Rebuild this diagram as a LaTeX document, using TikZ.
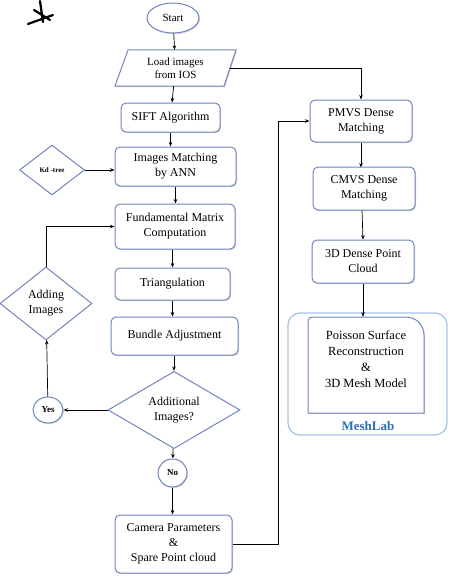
\documentclass[tikz,border=0pt]{standalone}
\usepackage{fontspec}
\setmainfont{Liberation Serif}
\usetikzlibrary{shapes.geometric,shadows,arrows.meta}
\definecolor{bord}{HTML}{6F86BA}
\definecolor{mlab}{HTML}{2E6DB4}
\definecolor{outerc}{HTML}{A9C4E6}
\begin{document}
\begin{tikzpicture}[x=1pt,y=-1pt,
  shad/.style={drop shadow={shadow xshift=1pt,shadow yshift=-1.2pt,opacity=0.3,fill=gray}},
  box/.style={draw=bord, line width=1pt, rounded corners=5pt, fill=white, align=center, inner sep=0pt, shad, font=\fontsize{12}{15}\selectfont},
  dia/.style={diamond, draw=bord, line width=1pt, fill=white, align=center, inner sep=0pt, font=\fontsize{12}{15}\selectfont},
  circ/.style={ellipse, draw=bord, line width=1pt, fill=white, inner sep=0pt, shad, font=\bfseries\fontsize{9}{10}\selectfont},
  arr/.style={-{Stealth[length=4.5pt,width=3.5pt]}, line width=0.7pt}]
\useasboundingbox (0,0) rectangle (474,578);

% hand mark
\draw[line width=2.2pt, line cap=round] (40,1) -- (43,22) (28,24) -- (53,15) (34,10) -- (50,20);

% left column
\node[circ, minimum width=52pt, minimum height=30pt, font=\fontsize{11}{12}\selectfont] (start) at (173,18) {Start};
\draw[bord, line width=1pt, fill=white, shad] (128,50) -- (236,50) -- (224,86) -- (115,86) -- cycle;
\node[inner sep=0pt, minimum width=108pt, minimum height=36pt, align=center, font=\fontsize{11}{13.5}\selectfont] (load) at (175.5,68) {Load images\\from IOS};
\node[box, minimum width=99pt, minimum height=29pt] (sift) at (170.5,117.5) {SIFT Algorithm};
\node[box, minimum width=121pt, minimum height=39pt] (match) at (175.5,166.5) {Images Matching\\by ANN};
\node[dia, minimum width=65pt, minimum height=50pt, font=\bfseries\fontsize{7}{8}\selectfont] (kd) at (52,170) {Kd -tree};
\node[box, minimum width=120pt, minimum height=45pt] (fund) at (175,226.5) {Fundamental Matrix\\Computation};
\node[box, minimum width=115pt, minimum height=32pt] (tri) at (172.5,284) {Triangulation};
\node[box, minimum width=127pt, minimum height=38pt] (bundle) at (174.5,336) {Bundle Adjustment};
\node[dia, minimum width=132pt, minimum height=76pt] (addl) at (174,410) {Additional\\Images?};
\node[circ, minimum width=30pt, minimum height=26pt] (yes) at (48,410) {Yes};
\node[dia, minimum width=92pt, minimum height=73pt] (adding) at (46,303.5) {Adding\\Images};
\node[circ, minimum width=29pt, minimum height=28pt] (no) at (172.5,473) {No};
\node[box, minimum width=117pt, minimum height=58pt] (cam) at (173.5,544) {Camera Parameters\\\&\\Spare Point cloud};

% right column
\node[box, minimum width=102pt, minimum height=42pt] (pmvs) at (361,121) {PMVS Dense\\Matching};
\node[box, minimum width=102pt, minimum height=43pt] (cmvs) at (364,188.5) {CMVS Dense\\Matching};
\node[box, minimum width=102pt, minimum height=43pt] (dense) at (363,261.5) {3D Dense Point\\Cloud};

\draw[outerc, line width=1.3pt, rounded corners=12pt] (288,313) rectangle (447,435);
\draw[bord, line width=1pt, fill=white, shad] (308,413) [rounded corners=4pt] -- (308,317) [rounded corners=18pt] -- (424,317) [sharp corners] -- (424,413) -- cycle;
\node[inner sep=0pt, minimum width=116pt, minimum height=96pt] (mesh) at (366,365) {};
\node[align=center, font=\fontsize{12.5}{16}\selectfont] (poisson) at (366,359) {Poisson Surface\\Reconstruction\\\&\\3D Mesh Model};
\node[font=\bfseries\fontsize{13}{14}\selectfont, text=mlab] (ml) at (368,426) {MeshLab};

% connectors
\draw[arr] (start) -- (load);
\draw[arr] (load) -- (sift);
\draw[arr] (sift) -- (sift |- match.north);
\draw[arr] (kd.east) -- (match.west |- kd.east);
\draw[arr] (match) -- (match |- fund.north);
\draw[arr] (fund.south -| tri) -- (tri);
\draw[arr] (tri) -- (tri |- bundle.north);
\draw[arr] (bundle.south -| addl) -- (addl);
\draw[arr] (addl.west) -- (yes.east);
\draw[arr] (yes) -- (adding);
\draw[arr] (adding.north) |- (fund.west);
\draw[arr] (addl) -- (no);
\draw[arr] (no) -- (no |- cam.north);
\draw[arr] (load.east) -| (pmvs.north);
\draw[arr] (cam.east) -- ++(46,0) |- (pmvs.west);
\draw[arr] (pmvs.south -| cmvs.north) ++(-3,0) -- ++(0,25);
\draw[arr] (cmvs.south) ++(-2,0) -- (dense.north);
\draw[arr] (dense.south) -- (dense.south |- mesh.north);
\end{tikzpicture}
\end{document}
